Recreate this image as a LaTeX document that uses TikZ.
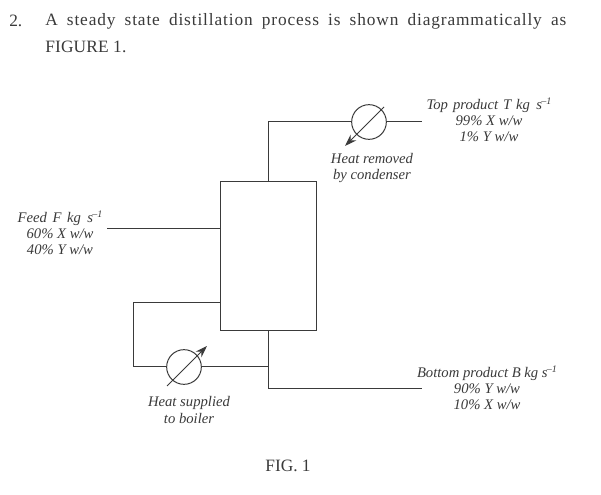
\documentclass[tikz,border=0pt]{standalone}
\usepackage{fontspec}
\setmainfont{Liberation Serif}
\usetikzlibrary{arrows.meta}
\definecolor{inkc}{HTML}{3A3A3A}
\newcommand{\perkg}{s\kern-0.5pt\raisebox{0.75ex}{\fontsize{7.5}{8}\selectfont --1}}
\tikzset{
	pipe/.style={draw=inkc,line width=0.75pt},
	exch/.style={draw=inkc,line width=0.75pt,circle,minimum size=26pt,inner sep=0pt},
	lab/.style={align=center,font=\fontsize{11}{12.2}\selectfont\itshape,text=inkc,inner sep=0pt},
	body/.style={anchor=west,font=\fontsize{13}{15}\selectfont,text=inkc,inner sep=0pt}
}
\begin{document}
\begin{tikzpicture}[x=0.75pt,y=-0.75pt]
		\useasboundingbox (0,0) rectangle (601,495);
		\fill[white] (0,0) rectangle (601,495);
		% question text
		\node[body] (qnum) at (9,21) {2.};
		\node[body] (qone) at (45,21) {\makebox[390.75pt][s]{\addfontfeature{LetterSpace=5}A steady state distillation process is shown diagrammatically as}};
		\node[body] (qtwo) at (45,47) {\addfontfeature{LetterSpace=1}FIGURE 1.};
		% column and exchangers
		\node[pipe,minimum width=72pt,minimum height=111.75pt,inner sep=0pt] (column) at (268,256.5) {};
		\node[exch] (condenser) at (369,122) {};
		\node[exch] (boiler) at (184,367) {};
		% pipe ends
		\coordinate (coltop) at (268,182);
		\coordinate (colbot) at (268,331);
		\coordinate (topbend) at (268,122);
		\coordinate (topend) at (422,122);
		\coordinate (feedend) at (107,229);
		\coordinate (feedin) at (220,229);
		\coordinate (retin) at (220,303);
		\coordinate (retup) at (133,303);
		\coordinate (retdown) at (133,367);
		\coordinate (boiljoin) at (268,367);
		\coordinate (botbend) at (268,389);
		\coordinate (botend) at (422,389);
		\coordinate (condin) at (345,146);
		\coordinate (condout) at (384,107);
		\coordinate (boilin) at (167,386);
		\coordinate (boilout) at (207,346);
		% pipes
		\draw[pipe] (coltop) -- (topbend) -- (condenser);
		\draw[pipe] (condenser) -- (topend);
		\draw[pipe] (feedend) -- (feedin);
		\draw[pipe] (retin) -- (retup) -- (retdown) -- (boiler);
		\draw[pipe] (boiler) -- (boiljoin);
		\draw[pipe] (colbot) -- (botbend) -- (botend);
		\draw[pipe,-{Stealth[length=9pt,width=6pt]}] (condout) -- (condin);
		\draw[pipe,-{Stealth[length=9pt,width=6pt]}] (boilin) -- (boilout);
		% labels
		\node[lab] (toplab) at (489,120) {Top\hspace{1pt} product\hspace{1pt} T\hspace{1pt} kg\hspace{2pt} \perkg\\99\% X w/w\\1\% Y w/w};
		\node[lab] (condlab) at (372,168) {Heat removed\\by condenser};
		\node[lab] (feedlab) at (60,233) {Feed\hspace{1.5pt} F\hspace{1.5pt} kg\hspace{2pt} \perkg\\60\% X w/w\\40\% Y w/w};
		\node[lab] (botlab) at (487,388) {Bottom product B kg \perkg\\90\% Y w/w\\10\% X w/w};
		\node[lab] (boillab) at (189,410) {Heat supplied\\to boiler};
		\node[body,anchor=center] (figlab) at (288,466) {FIG. 1};
		\end{tikzpicture}
\end{document}
